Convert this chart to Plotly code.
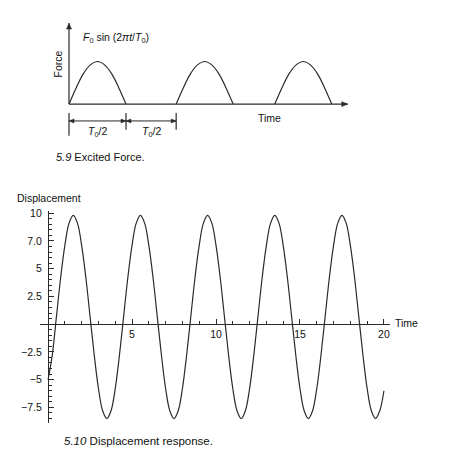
import plotly.graph_objects as go

# ---------------- data ----------------
# Fig 5.9: half-sine force pulses (time in units of T0/2, force normalised)
hump_starts = [0.0, 1.88, 3.61]
hump_phase = [0.0, 0.125, 0.25, 0.375, 0.5, 0.625, 0.75, 0.875, 1.0]
hump_force = [0.0, 0.38, 0.71, 0.92, 1.0, 0.92, 0.71, 0.38, 0.0]
time_axis_end = 4.89
force_axis_top = 1.9

# Fig 5.10: displacement response
disp_time = [i * 0.25 for i in range(81)]
displacement = [
    -5.0, -2.8, 0.7, 4.2, 7.1, 9.1, 9.8, 9.1, 7.1, 4.2, 0.7, -2.8, -5.8, -7.8, -8.5, -7.8,
    -5.8, -2.8, 0.7, 4.2, 7.1, 9.1, 9.8, 9.1, 7.1, 4.2, 0.7, -2.8, -5.8, -7.8, -8.5, -7.8,
    -5.8, -2.8, 0.7, 4.2, 7.1, 9.1, 9.8, 9.1, 7.1, 4.2, 0.7, -2.8, -5.8, -7.8, -8.5, -7.8,
    -5.8, -2.8, 0.7, 4.2, 7.1, 9.1, 9.8, 9.1, 7.1, 4.2, 0.7, -2.8, -5.8, -7.8, -8.5, -7.8,
    -5.8, -2.8, 0.7, 4.2, 7.1, 9.1, 9.8, 9.1, 7.1, 4.2, 0.7, -2.8, -5.8, -7.8, -8.5, -7.8,
    -6.0,
]
y_tickvals = [-7.5, -5, -2.5, 2.5, 5, 7.5, 10]
y_ticktext = ["\u22127.5", "\u22125", "\u22122.5", "2.5", "5", "7.0", "10"]
x_tickvals = [5, 10, 15, 20]
x_ticktext = ["5", "10", "15", "20"]

# ---------------- figure ----------------
W = H = 453
FONT = "Liberation Sans, Arial, sans-serif"
INK = "#111111"
LINE = "#2a2a2a"

# top-chart pixel scale (px per data unit)
X2_LO, X2_HI, X2_P0, X2_P1 = -0.2, 5.0, 57.6, 354.0
Y2_LO, Y2_HI, Y2_P0, Y2_P1 = -0.8, 2.0, 135.4, 15.0
SX = (X2_P1 - X2_P0) / (X2_HI - X2_LO)
SY = (Y2_P0 - Y2_P1) / (Y2_HI - Y2_LO)


def px(x):
    return x / W


def py(y):
    return 1 - y / H


fig = go.Figure()

# top chart humps
fx, fy = [], []
for s in hump_starts:
    for p, f in zip(hump_phase, hump_force):
        fx.append(s + p)
        fy.append(f)
    fx.append(None)
    fy.append(None)
fig.add_trace(go.Scatter(x=fx, y=fy, mode="lines", line=dict(color=LINE, width=1.2, shape="spline"),
                         xaxis="x2", yaxis="y2", hoverinfo="skip", showlegend=False))

# bottom chart
fig.add_trace(go.Scatter(x=disp_time, y=displacement, mode="lines",
                         line=dict(color=LINE, width=1.2, shape="spline"),
                         hoverinfo="skip", showlegend=False))

fig.update_layout(
    width=W, height=H,
    margin=dict(l=0, r=0, t=0, b=0),
    paper_bgcolor="white", plot_bgcolor="rgba(0,0,0,0)",
    font=dict(family=FONT, color=INK, size=10),
    showlegend=False,
    xaxis=dict(
        domain=[px(40), px(390)], range=[-0.48, 20.36],
        anchor="free", position=py(323),
        showline=True, linecolor=LINE, linewidth=1.2,
        showgrid=False, zeroline=False,
        tickmode="array", tickvals=x_tickvals, ticktext=x_ticktext,
        ticks="inside", ticklen=5, tickcolor=LINE, tickwidth=1,
        minor=dict(dtick=1, tick0=0, ticks="inside", ticklen=3, tickcolor=LINE, tickwidth=1),
        tickfont=dict(size=10.5, color=INK, family=FONT),
        fixedrange=True,
    ),
    yaxis=dict(
        domain=[py(423), py(209)], range=[-8.93, 10.18],
        anchor="free", position=px(48),
        showline=True, linecolor=LINE, linewidth=1.2,
        showgrid=False, zeroline=False,
        tickmode="array", tickvals=y_tickvals, ticktext=y_ticktext,
        ticks="inside", ticklen=5, tickcolor=LINE, tickwidth=1,
        minor=dict(dtick=0.5, tick0=0, ticks="inside", ticklen=3, tickcolor=LINE, tickwidth=1),
        tickfont=dict(size=10.5, color=INK, family=FONT),
        ticklabelstandoff=4,
        fixedrange=True,
    ),
    xaxis2=dict(
        domain=[px(X2_P0), px(X2_P1)], range=[X2_LO, X2_HI],
        anchor="y2", visible=False, fixedrange=True,
    ),
    yaxis2=dict(
        domain=[py(Y2_P0), py(Y2_P1)], range=[Y2_LO, Y2_HI],
        anchor="x2", visible=False, fixedrange=True,
    ),
)

shapes = []


def seg(x0, y0, x1, y1, w=1.2):
    shapes.append(dict(type="line", xref="x2", yref="y2", x0=x0, y0=y0, x1=x1, y1=y1,
                       line=dict(color=LINE, width=w)))


def head(x, y, direction, length=6.0, half=2.5):
    # filled triangular arrowhead, tip at (x, y); sizes in pixels
    lx, ly = length / SX, length / SY
    hx, hy = half / SX, half / SY
    if direction == "up":
        pts = [(x, y), (x - hx, y - ly), (x + hx, y - ly)]
    elif direction == "right":
        pts = [(x, y), (x - lx, y + hy), (x - lx, y - hy)]
    else:  # left
        pts = [(x, y), (x + lx, y + hy), (x + lx, y - hy)]
    path = "M " + " L ".join(f"{a},{b}" for a, b in pts) + " Z"
    shapes.append(dict(type="path", xref="x2", yref="y2", path=path,
                       fillcolor=LINE, line=dict(color=LINE, width=0.5)))


# axis arrows of the top chart
seg(0, 0, 0, force_axis_top)
head(0, force_axis_top, "up")
seg(0, 0, time_axis_end, 0)
head(time_axis_end, 0, "right")

# dimension lines T0/2
d0 = hump_starts[0]
d1 = hump_starts[0] + hump_phase[-1]
d2 = hump_starts[1]
ydim = -0.395
seg(d0, -0.21, d0, -0.74)
seg(d1, -0.21, d1, -0.60)
seg(d2, -0.21, d2, -0.60)
ann = []
for a, b in [(d0, d1), (d1, d2)]:
    seg(a, ydim, b, ydim, w=1)
    head(a, ydim, "left", length=5, half=2)
    head(b, ydim, "right", length=5, half=2)
    ann.append(dict(x=(a + b) / 2, y=py(129), xref="x2", yref="paper", yanchor="middle",
                    text="<i>T</i><sub>0</sub>/2", showarrow=False, font=dict(size=10.5)))


def label(text, x, y, size=10, xanchor="center", angle=0):
    ann.append(dict(x=px(x), y=py(y), xref="paper", yref="paper", text=text, showarrow=False,
                    xanchor=xanchor, yanchor="middle", textangle=angle, font=dict(size=size)))


label("Force", 58, 60, size=10.5, angle=-90)
label("<i>F</i><sub>0</sub> sin (2<i>\u03c0t</i>/<i>T</i><sub>0</sub>)", 81, 34, size=10.5, xanchor="left")
label("Time", 256, 115, size=10.5, xanchor="left")
label("<i>5.9</i> Excited Force.", 54, 154, size=11, xanchor="left")

label("Displacement", 15, 196, size=10.5, xanchor="left")
label("Time", 393, 322, size=10.5, xanchor="left")
label("<i>5.10</i> Displacement response.", 62, 441, size=11.5, xanchor="left")

fig.update_layout(annotations=ann, shapes=shapes)

fig.write_html("out.html")
